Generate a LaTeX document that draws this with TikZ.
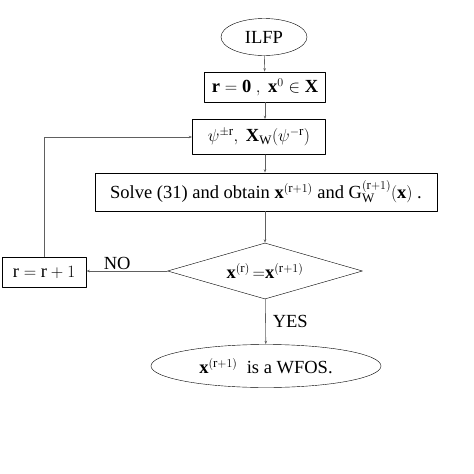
\documentclass[tikz,border=0pt]{standalone}
\usepackage{fontspec}
\setmainfont{Liberation Serif}
\usetikzlibrary{shapes.geometric,arrows.meta}
\begin{document}
\begin{tikzpicture}[x=1pt,y=-1pt,font=\fontsize{18.5}{21}\selectfont,line cap=round,line join=round,>={Stealth[length=3.5pt,width=2.5pt]},
box/.style={draw,thick,inner sep=0pt,text=black},
term/.style={draw,ellipse,inner sep=0pt,text=black},
flow/.style={->,draw=gray!75!black,semithick},
tag/.style={text=black,inner sep=1pt}]
\useasboundingbox (0,0) rectangle (474,474);
\node[term,minimum width=86pt,minimum height=37pt] (ilfp) at (264,37) {ILFP};
\node[box,minimum width=121pt,minimum height=30pt] (start) at (265,87) {$\mathbf{r}=\mathbf{0}\ ,\ \mathbf{x}^{0}\in\mathbf{X}$};
\node[box,minimum width=133pt,minimum height=35pt] (psi) at (259,137) {$\psi^{\pm\mathrm{r}},\ \mathbf{X}_{\mathrm{W}}(\psi^{-\mathrm{r}})$};
\node[box,minimum width=342pt,minimum height=38pt] (solve) at (266,192) {Solve (31) and obtain $\mathbf{x}^{(\mathrm{r}+1)}$ and $\mathrm{G}_{\mathrm{W}}^{(\mathrm{r}+1)}(\mathbf{x})$ .};
\node[draw,diamond,shape aspect=3.5,inner sep=0pt,text=black,minimum width=195pt,minimum height=56pt] (check) at (265,271) {$\mathbf{x}^{(\mathrm{r})}\,{=}\mathbf{x}^{(\mathrm{r}+1)}$};
\node[box,minimum width=84pt,minimum height=30pt] (inc) at (44,272) {$\mathrm{r}=\mathrm{r}+1$};
\node[term,minimum width=230pt,minimum height=43pt] (done) at (266,366) {$\mathbf{x}^{(\mathrm{r}+1)}$\ \ is a WFOS.};
% connectors
\draw[flow] (ilfp) -- (start);
\draw[flow] (start.south) -- (start.south |- psi.north);
\draw[flow] (start.south |- psi.south) -- (start.south |- solve.north);
\draw[flow] (solve.south -| check.north) -- (check.north);
\draw[flow] (check.west) -- (check.west -| inc.east) node[tag,pos=.62,above] (no) {NO};
\draw[flow] (inc.north) |- (psi.west);
\draw[flow] (check) -- (done) node[tag,midway,right=6pt] (yes) {YES};
\end{tikzpicture}
\end{document}
